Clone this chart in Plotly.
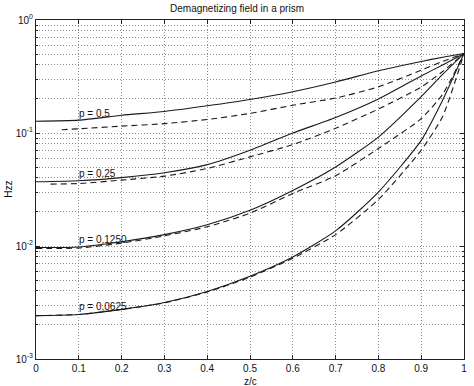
import math
import plotly.graph_objects as go

# ---- data ----
z = [0.0, 0.1, 0.2, 0.3, 0.4, 0.5, 0.6, 0.7, 0.8, 0.9, 0.95, 1.0]

solid_p0500 = [0.127, 0.130, 0.1436, 0.155, 0.174, 0.198, 0.232, 0.283, 0.355, 0.43, 0.468, 0.505]
solid_p0250 = [0.037, 0.0378, 0.0403, 0.0445, 0.0525, 0.0705, 0.100, 0.137, 0.20, 0.32, 0.40, 0.505]
solid_p0125 = [0.0097, 0.0098, 0.0109, 0.0126, 0.0154, 0.0207, 0.031, 0.050, 0.092, 0.21, 0.33, 0.505]
solid_p0625 = [0.00242, 0.00248, 0.00275, 0.00316, 0.00396, 0.0054, 0.0080, 0.0136, 0.030, 0.086, 0.195, 0.505]

z_dash_p0500 = [0.06, 0.1, 0.2, 0.3, 0.4, 0.5, 0.6, 0.7, 0.8, 0.9, 0.95, 1.0]
dash_p0500 = [0.107, 0.109, 0.115, 0.121, 0.1316, 0.149, 0.176, 0.204, 0.256, 0.36, 0.43, 0.505]
z_dash_p0250 = [0.034, 0.1, 0.2, 0.3, 0.4, 0.5, 0.6, 0.7, 0.8, 0.9, 0.95, 1.0]
dash_p0250 = [0.0353, 0.0357, 0.0383, 0.0415, 0.0485, 0.0615, 0.079, 0.11, 0.163, 0.255, 0.35, 0.505]
dash_p0125 = [0.0095, 0.0096, 0.0106, 0.0123, 0.0148, 0.0195, 0.0292, 0.0418, 0.073, 0.134, 0.22, 0.505]
dash_p0625 = [0.00242, 0.00248, 0.00274, 0.00314, 0.00392, 0.0053, 0.0078, 0.0126, 0.0258, 0.0705, 0.14, 0.505]

labels = ["p = 0.5", "p = 0.25", "p = 0,1250", "p = 0,0625"]
label_y = [0.150, 0.0441, 0.0115, 0.00294]
label_x = 0.095

y_ticks = [1, 0.1, 0.01, 0.001]
y_ticktext = ["10<sup>0</sup>", "10<sup>-1</sup>", "10<sup>-2</sup>", "10<sup>-3</sup>"]
y_minor = [m * d for d in (0.001, 0.01, 0.1) for m in range(2, 10)]

LINE = "#1a1a1a"
GRID = "#8c8c8c"
DOT = "1px,2px"
FONT = "Liberation Sans, Arial, Helvetica, sans-serif"

fig = go.Figure()
for ys in [solid_p0500, solid_p0250, solid_p0125, solid_p0625]:
    fig.add_trace(go.Scatter(x=z, y=ys, mode="lines",
                             line=dict(color=LINE, width=1.1, shape="spline", smoothing=0.6),
                             showlegend=False, hoverinfo="skip"))
for xs, ys in [(z_dash_p0500, dash_p0500), (z_dash_p0250, dash_p0250), (z, dash_p0125), (z, dash_p0625)]:
    fig.add_trace(go.Scatter(x=xs, y=ys, mode="lines",
                             line=dict(color=LINE, width=1.1, dash="6px,4px", shape="spline", smoothing=0.6),
                             showlegend=False, hoverinfo="skip"))

for t, yv in zip(labels, label_y):
    fig.add_annotation(x=label_x, y=math.log10(yv), text=t, showarrow=False,
                       xanchor="left", yanchor="middle", font=dict(size=10, color="#111", family=FONT))

# axis titles placed as annotations for precise positioning
fig.add_annotation(x=0.5, xref="paper", y=-0.045, yref="paper", yanchor="top", text="z/c",
                   showarrow=False, font=dict(size=10, color="#111", family=FONT))
fig.add_annotation(x=-0.065, xref="paper", y=0.5, yref="paper", xanchor="center", text="Hzz",
                   textangle=-90, showarrow=False, font=dict(size=10, color="#111", family=FONT))

fig.update_layout(
    width=474, height=386,
    margin=dict(l=36, r=7, t=20, b=27),
    paper_bgcolor="white", plot_bgcolor="white",
    font=dict(family=FONT, size=10, color="#111"),
    title=dict(text="Demagnetizing field in a prism", x=0.5, xanchor="center", y=0.988, yanchor="top",
               font=dict(size=10, family=FONT, color="#111")),
    hovermode=False,
)
fig.update_xaxes(
    range=[0, 1], tickmode="linear", tick0=0, dtick=0.1,
    showgrid=True, gridcolor=GRID, griddash=DOT, gridwidth=1,
    showline=True, linecolor="#222", linewidth=1, mirror="allticks",
    ticks="inside", ticklen=4, tickcolor="#222",
    zeroline=False, tickfont=dict(size=10),
)
fig.update_yaxes(
    type="log", range=[-3, 0], tickvals=y_ticks, ticktext=y_ticktext,
    showgrid=True, gridcolor=GRID, griddash=DOT, gridwidth=1,
    minor=dict(tickvals=y_minor, showgrid=True, gridcolor=GRID, griddash=DOT, gridwidth=1,
               ticks="inside", ticklen=2, tickcolor="#222"),
    showline=True, linecolor="#222", linewidth=1, mirror="allticks",
    ticks="inside", ticklen=4, tickcolor="#222",
    zeroline=False, tickfont=dict(size=10),
)

fig.write_html(
    "out.html",
    config={"displayModeBar": False, "staticPlot": True},
    post_script="document.body.style.margin='0';document.body.style.padding='0';document.body.style.overflow='hidden';",
)
